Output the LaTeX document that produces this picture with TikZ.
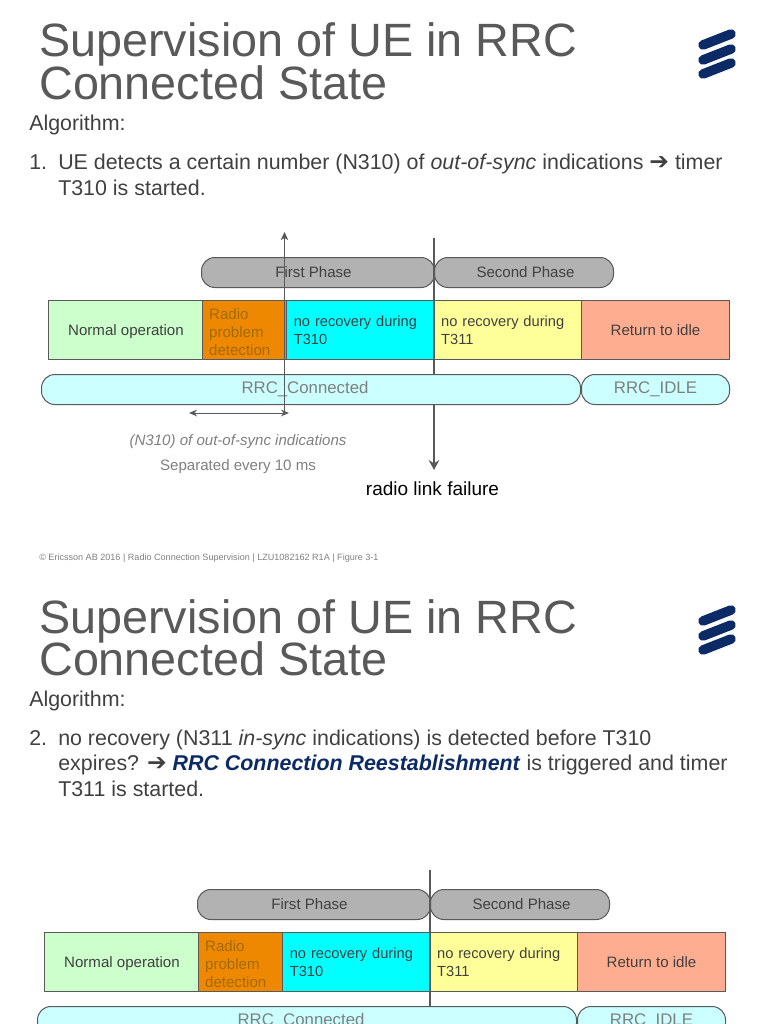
\documentclass[tikz,border=0pt]{standalone}
\usepackage{fontspec}
\setmainfont{Liberation Sans}
\newfontfamily\symfont{DejaVu Sans}
\usetikzlibrary{arrows.meta}
\definecolor{titlegray}{HTML}{595959}
\definecolor{bodygray}{HTML}{404040}
\definecolor{notegray}{HTML}{7F7F7F}
\definecolor{linegray}{HTML}{595959}
\definecolor{ericblue}{HTML}{0B2A66}
\definecolor{pillgray}{HTML}{B2B2B2}
\definecolor{cellgreen}{HTML}{CCFFCC}
\definecolor{cellorange}{HTML}{EE8800}
\definecolor{cellcyan}{HTML}{00FFFF}
\definecolor{cellyellow}{HTML}{FFFF99}
\definecolor{cellsalmon}{HTML}{FFAD91}
\definecolor{statecyan}{HTML}{CCFFFF}
\definecolor{orangetext}{HTML}{A06A10}
\newcommand{\heavyarrow}{{\symfont\fontsize{17.6pt}{19pt}\selectfont\char"2794}}
\tikzset{
  x=0.75pt,y=-0.75pt,
  titletext/.style={anchor=base west,inner sep=0,text=titlegray,font=\fontsize{35.05pt}{42pt}\selectfont},
  bodytext/.style={anchor=base west,inner sep=0,text=bodygray,font=\fontsize{16.05pt}{19pt}\selectfont},
  foottext/.style={anchor=base west,inner sep=0,text=notegray,font=\fontsize{6.8pt}{8pt}\selectfont},
  cell/.style={draw=linegray,line width=0.75pt,minimum height=44.25pt,inner sep=0,text=bodygray,font=\fontsize{11.3pt}{13.5pt}\selectfont,anchor=north west},
  pill/.style={draw=linegray,line width=0.75pt,fill=pillgray,rounded corners=10pt,minimum height=22.5pt,inner sep=0,text=bodygray,font=\fontsize{11.3pt}{13pt}\selectfont,anchor=north west},
  state/.style={draw=linegray,line width=0.75pt,fill=statecyan,rounded corners=10pt,minimum height=22.5pt,inner sep=0,text=notegray,font=\fontsize{12.6pt}{14pt}\selectfont,anchor=north west},
  mark line/.style={draw=linegray,line width=0.75pt},
  heavy line/.style={draw=linegray,line width=1.1pt},
  small tip/.style={-{Stealth[length=6pt,width=5.5pt,inset=1.5pt]}},
  large tip/.style={-{Stealth[length=7.5pt,width=8pt,inset=2.5pt]}},
  both tips/.style={{Stealth[length=6pt,width=5pt]}-{Stealth[length=6pt,width=5pt]}},
  barmark/.style={line cap=round,line width=7.2pt,draw=ericblue},
  note/.style={inner sep=0,text=notegray,font=\fontsize{11.3pt}{13pt}\selectfont},
}
\newcommand{\cellrow}[1]{%
  \node[cell,fill=cellgreen,minimum width=116.25pt] (#1green) at (48,300) {\rule{0pt}{10pt}Normal operation};
  \node[cell,fill=cellorange,minimum width=63pt,text=orangetext,align=left,text width=57pt,inner xsep=5pt] (#1orange) at (202,300) {\rule{0pt}{11.5pt}Radio\\problem\\detection};
  \node[cell,fill=cellcyan,minimum width=111pt,align=left,text width=101pt,inner xsep=5.5pt,font=\fontsize{11pt}{13.5pt}\selectfont] (#1cyan) at (286,300) {no recovery during\\T310};
  \node[cell,fill=cellyellow,minimum width=111pt,align=left,text width=101pt,inner xsep=5pt,font=\fontsize{11pt}{13.5pt}\selectfont] (#1yellow) at (434,300) {no recovery during\\T311};
  \node[cell,fill=cellsalmon,minimum width=111pt] (#1salmon) at (581,300) {Return to idle};
}
\newcommand{\pillrow}[1]{%
  \node[pill,minimum width=174.75pt] (#1first) at (201,257) {First Phase\hspace*{6.75pt}};
  \node[pill,minimum width=134.25pt] (#1second) at (434,257) {\hspace*{2.25pt}Second Phase};
}
\newcommand{\staterow}[1]{%
  \node[state,minimum width=404.25pt] (#1connected) at (41,374) {RRC\_Connected\hspace*{9pt}};
  \node[state,minimum width=111pt] (#1idle) at (581,374) {RRC\_IDLE};
}
\newcommand{\ericlogo}{%
  \draw[barmark] (703,45) -- (731,34);
  \draw[barmark] (703,60) -- (731,49);
  \draw[barmark] (703,74) -- (731,63);
}
\begin{document}
\begin{tikzpicture}
\useasboundingbox (0,0) rectangle (768,1024);
\clip (0,0) rectangle (768,1024);
% slide 1
\node[titletext] (t1a) at (39,57) {Supervision of UE in RRC};
\node[titletext] (t1b) at (39,99) {Connected State};
\ericlogo
\node[bodytext] (b1a) at (29,130) {Algorithm:};
\node[bodytext] (b1b) at (29,169) {1.};
\node[bodytext] (b1c) at (58,169) {UE detects a certain number (N310) of \textit{out-of-sync} indications \heavyarrow{} timer};
\node[bodytext] (b1d) at (58,195) {T310 is started.};
\cellrow{a}
\pillrow{a}
\coordinate (atopL) at (434,238);
\coordinate (abotL) at (434,470);
\draw[heavy line,large tip] (atopL) -- (abotL);
\staterow{a}
\coordinate (atopR) at (284.5,232);
\coordinate (abotR) at (284.5,413);
\coordinate (aleft) at (189,413);
\coordinate (aright) at (289,413);
\draw[mark line,small tip] (abotR) -- (atopR);
\draw[mark line,both tips] (aleft) -- (aright);
\node[note,font=\fontsize{11.3pt}{13pt}\itshape\selectfont] (an) at (238,442) {(N310) of out-of-sync indications};
\node[note] (as) at (238,467) {Separated every 10 ms};
\node[inner sep=0,text=black,font=\fontsize{14.25pt}{16pt}\selectfont] (af) at (432.5,489) {radio link failure};
\node[foottext] (f1) at (39,560) {© Ericsson AB 2016  |  Radio Connection Supervision  |  LZU1082162 R1A  |  Figure  3-1};
% slide 2
\begin{scope}[shift={(0,576)}]
\node[titletext] (t2a) at (39,57) {Supervision of UE in RRC};
\node[titletext] (t2b) at (39,99) {Connected State};
\ericlogo
\node[bodytext] (b2a) at (29,130) {Algorithm:};
\node[bodytext] (b2b) at (29,169) {2.};
\node[bodytext] (b2c) at (58,169) {no recovery (N311 \textit{in-sync} indications) is detected before T310};
\node[bodytext] (b2d) at (58,194) {expires? \heavyarrow{} \textcolor{ericblue}{\textbf{\textit{RRC Connection Reestablishment}}} is triggered and timer};
\node[bodytext] (b2e) at (58,220) {T311 is started.};
\end{scope}
\begin{scope}[shift={(-4,632)}]
\cellrow{b}
\pillrow{b}
\coordinate (btopL) at (434,238);
\coordinate (bbotL) at (434,380);
\draw[heavy line] (btopL) -- (bbotL);
\staterow{b}
\end{scope}
\end{tikzpicture}
\end{document}
